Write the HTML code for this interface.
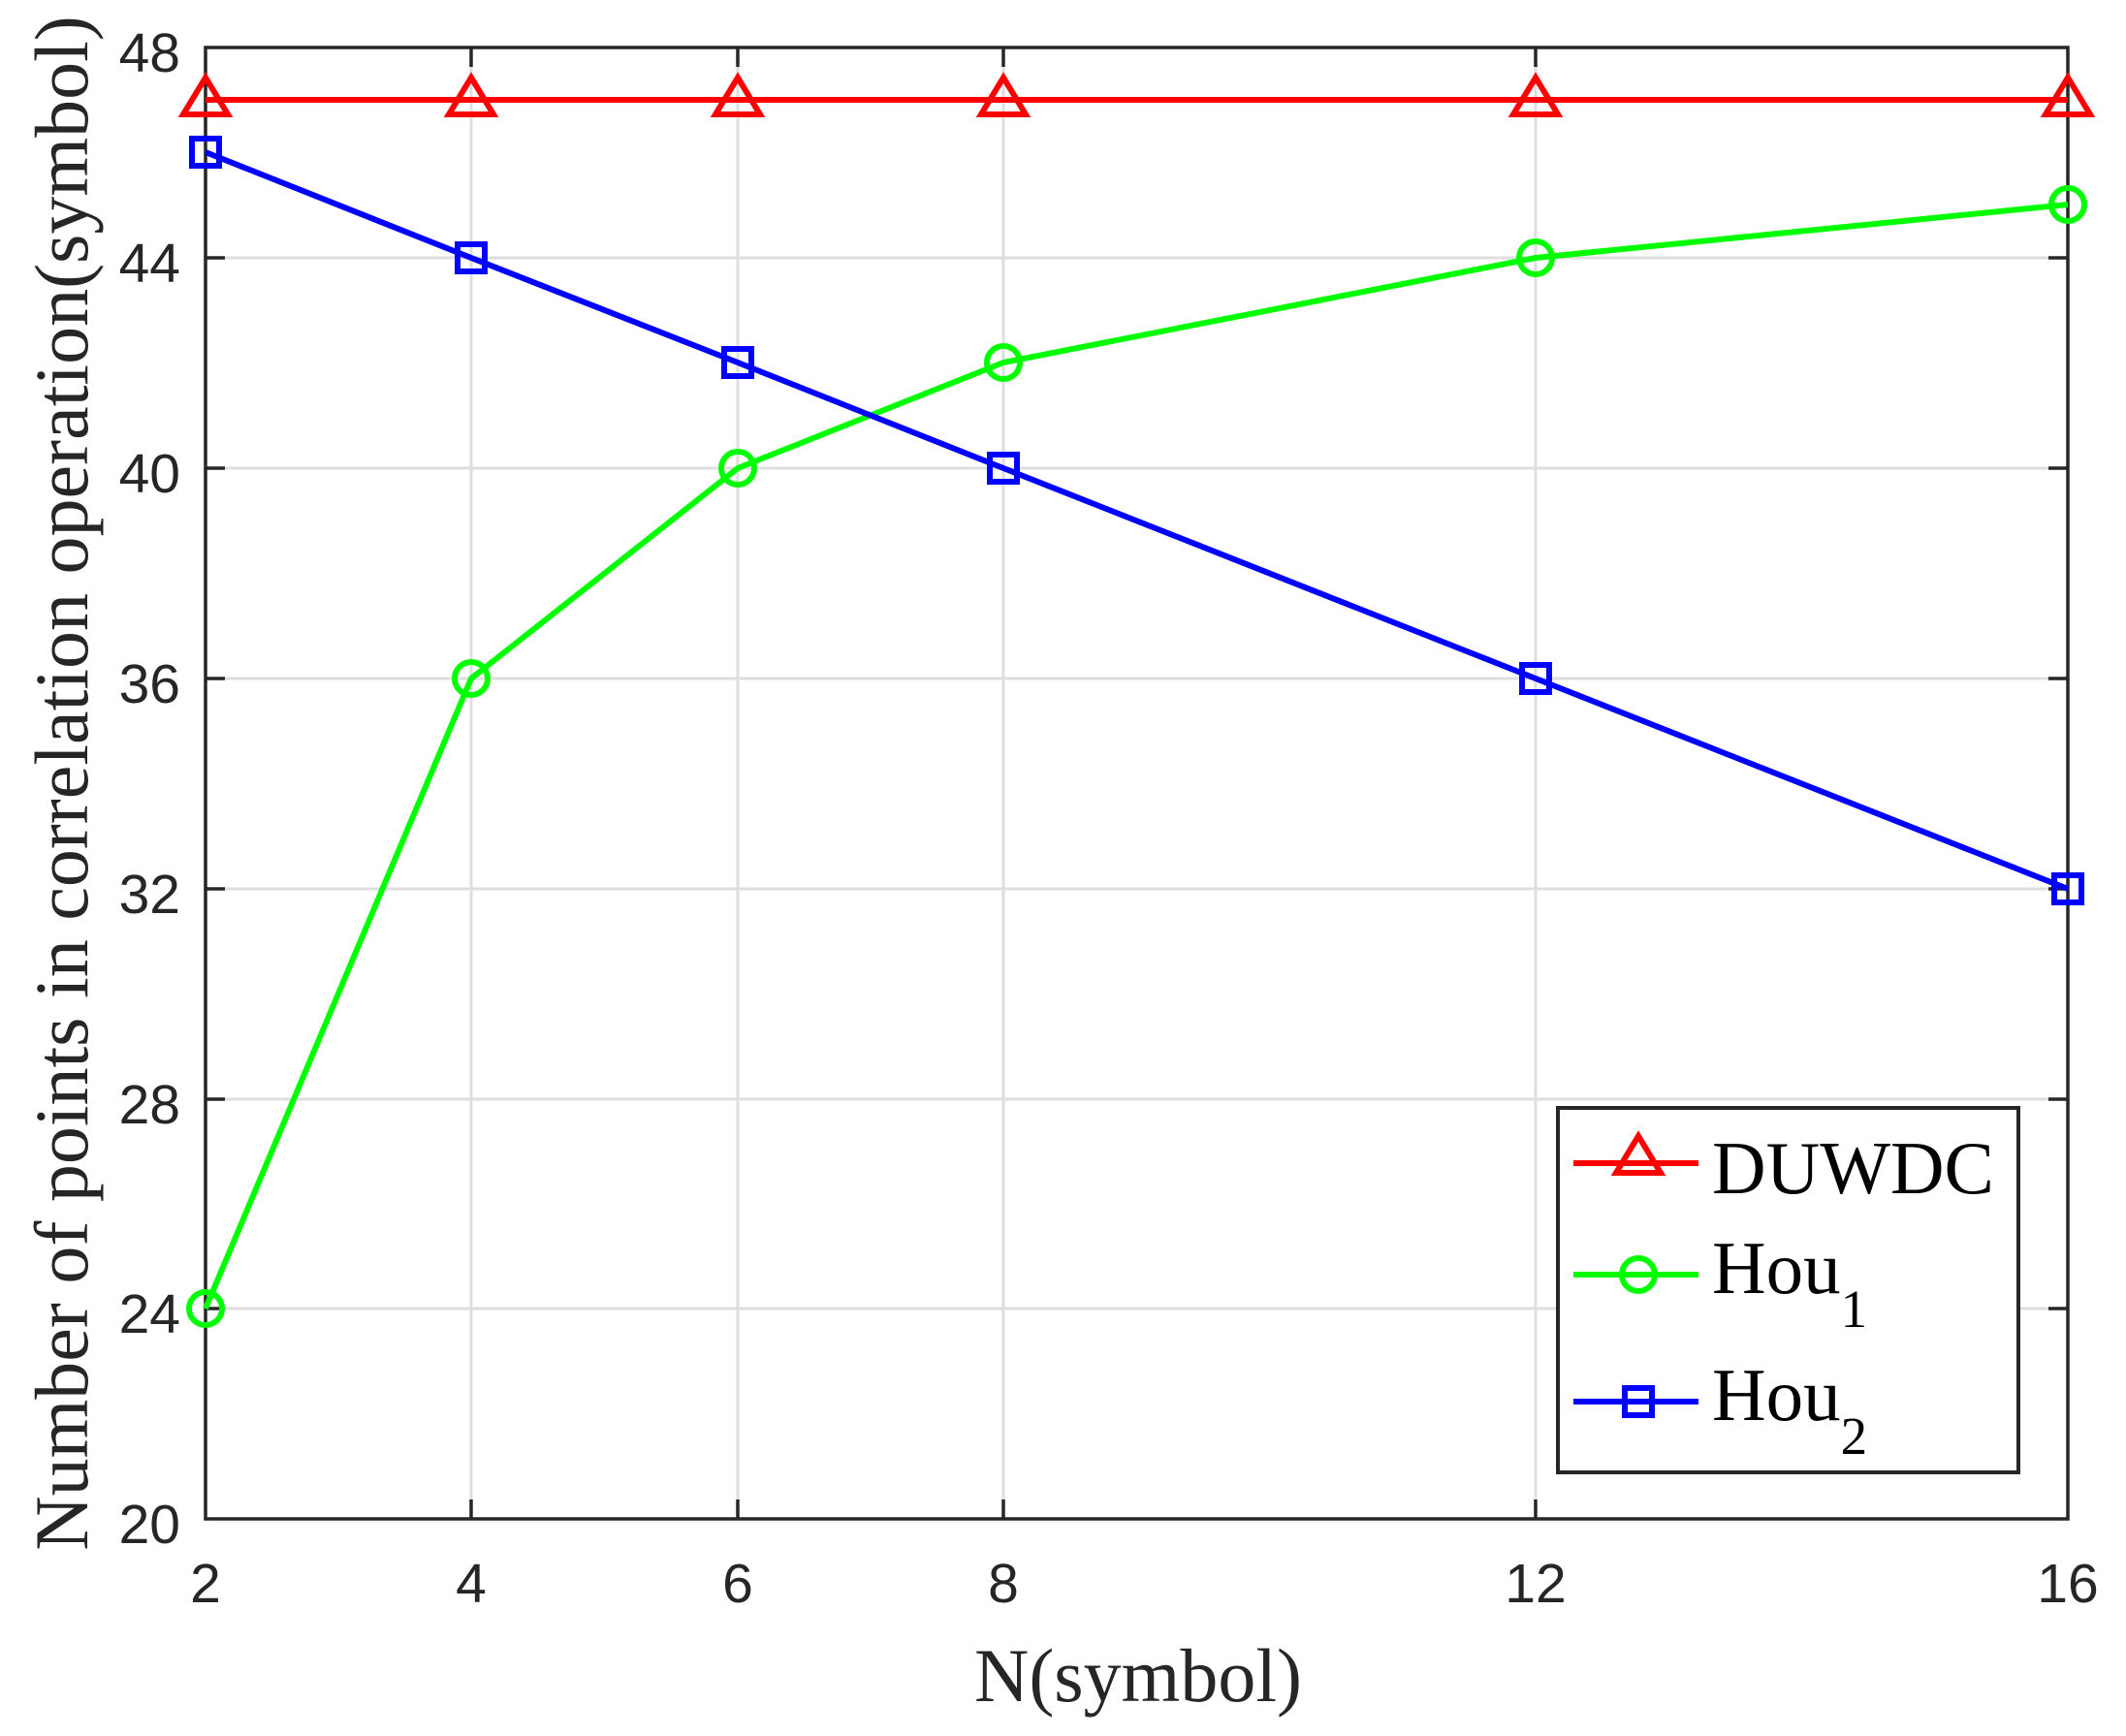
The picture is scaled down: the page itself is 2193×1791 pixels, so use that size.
<!DOCTYPE html>
<html><head><style>html,body{margin:0;padding:0;background:#fff}</style></head><body>
<svg width="2193" height="1786" viewBox="0 0 2193 1786" xmlns="http://www.w3.org/2000/svg">
<rect width="2193" height="1786" fill="#fff"/>
<g stroke="#dedede" stroke-width="3">
<line x1="486" y1="49" x2="486" y2="1567"/><line x1="761" y1="49" x2="761" y2="1567"/><line x1="1035" y1="49" x2="1035" y2="1567"/><line x1="1584" y1="49" x2="1584" y2="1567"/>
<line x1="212" y1="266" x2="2133" y2="266"/><line x1="212" y1="483" x2="2133" y2="483"/><line x1="212" y1="700" x2="2133" y2="700"/><line x1="212" y1="917" x2="2133" y2="917"/><line x1="212" y1="1134" x2="2133" y2="1134"/><line x1="212" y1="1350" x2="2133" y2="1350"/>
</g>
<g stroke="#262626" stroke-width="3.5">
<path d="M486 1567v-20M761 1567v-20M1035 1567v-20M1584 1567v-20M486 49v20M761 49v20M1035 49v20M1584 49v20"/>
<path d="M212 266h20M212 483h20M212 700h20M212 917h20M212 1134h20M212 1350h20M2133 266h-20M2133 483h-20M2133 700h-20M2133 917h-20M2133 1134h-20M2133 1350h-20"/>
<rect x="212" y="49" width="1921" height="1518" fill="none"/>
</g>
<g font-family="Liberation Sans, sans-serif" font-size="57" fill="#262626" text-anchor="end">
<text x="186" y="74">48</text><text x="186" y="291">44</text><text x="186" y="508">40</text><text x="186" y="725">36</text><text x="186" y="942">32</text><text x="186" y="1159">28</text><text x="186" y="1375">24</text><text x="186" y="1592">20</text>
</g>
<g font-family="Liberation Sans, sans-serif" font-size="57" fill="#262626" text-anchor="middle">
<text x="212" y="1653">2</text><text x="486" y="1653">4</text><text x="761" y="1653">6</text><text x="1035" y="1653">8</text><text x="1584" y="1653">12</text><text x="2133" y="1653">16</text>
</g>
<text x="1174" y="1755" font-family="Liberation Serif, serif" font-size="78" fill="#262626" text-anchor="middle">N(symbol)</text>
<text transform="translate(90,808) rotate(-90)" font-family="Liberation Serif, serif" font-size="78" fill="#262626" text-anchor="middle">Number of points in correlation operation(symbol)</text>
<g fill="none" stroke-width="6">
<polyline stroke="#ff0000" points="212,103 486,103 761,103 1035,103 1584,103 2133,103"/>
<polyline stroke="#00ff00" points="212,1350 486,700 761,483 1035,374 1584,266 2133,211"/>
<polyline stroke="#0000ff" points="212,157 486,266 761,374 1035,483 1584,700 2133,917"/>
<g stroke="#ff0000"><path d="M212 80l-23 38h46z M486 80l-23 38h46z M761 80l-23 38h46z M1035 80l-23 38h46z M1584 80l-23 38h46z M2133 80l-23 38h46z"/></g>
<g stroke="#00ff00"><circle cx="212" cy="1350" r="17"/><circle cx="486" cy="700" r="17"/><circle cx="761" cy="483" r="17"/><circle cx="1035" cy="374" r="17"/><circle cx="1584" cy="266" r="17"/><circle cx="2133" cy="211" r="17"/></g>
<g stroke="#0000ff"><rect x="198" y="143" width="28" height="28"/><rect x="472" y="252" width="28" height="28"/><rect x="747" y="360" width="28" height="28"/><rect x="1021" y="469" width="28" height="28"/><rect x="1570" y="686" width="28" height="28"/><rect x="2119" y="903" width="28" height="28"/></g>
</g>
<rect x="1607" y="1143" width="475" height="376" fill="#fff" stroke="#262626" stroke-width="4"/>
<g fill="none" stroke-width="6">
<line x1="1623" y1="1200" x2="1752" y2="1200" stroke="#ff0000"/><path d="M1690 1172l-23 38h46z" stroke="#ff0000"/>
<line x1="1623" y1="1315" x2="1752" y2="1315" stroke="#00ff00"/><circle cx="1690" cy="1315" r="17" stroke="#00ff00"/>
<line x1="1623" y1="1446" x2="1752" y2="1446" stroke="#0000ff"/><rect x="1676" y="1432" width="28" height="28" stroke="#0000ff"/>
</g>
<g font-family="Liberation Serif, serif" font-size="77" fill="#000">
<text x="1766" y="1231">DUWDC</text>
<text x="1766" y="1334">Hou<tspan font-size="55" dy="35">1</tspan></text>
<text x="1766" y="1465">Hou<tspan font-size="55" dy="35">2</tspan></text>
</g>
</svg>
</body></html>
